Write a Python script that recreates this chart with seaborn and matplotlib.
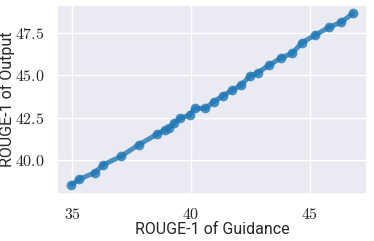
import numpy as np
import pandas as pd
import matplotlib
matplotlib.use('Agg')
import matplotlib.pyplot as plt
from matplotlib.ticker import FuncFormatter, MultipleLocator
import seaborn as sns

# values
guidance = [34.96, 35.27, 35.96, 36.30, 37.05, 37.81, 38.56, 38.90, 39.06, 39.30,
            39.53, 39.94, 40.17, 40.61, 40.96, 41.33, 41.73, 42.12, 42.47, 42.81,
            43.30, 43.80, 44.27, 44.68, 45.21, 45.81, 46.33, 46.82]
output = [38.55, 38.87, 39.28, 39.73, 40.23, 40.92, 41.52, 41.80, 41.88, 42.19,
          42.46, 42.66, 43.05, 43.05, 43.44, 43.77, 44.12, 44.41, 44.94, 45.14,
          45.59, 46.02, 46.29, 46.91, 47.34, 47.81, 48.11, 48.63]

df = pd.DataFrame({'guidance': guidance, 'output': output})

sns.set_theme(style='darkgrid')
plt.rcParams['font.family'] = ['Roboto', 'DejaVu Sans']
plt.rcParams['mathtext.fontset'] = 'cm'

fig, ax = plt.subplots(figsize=(3.74, 2.41), dpi=100)
sns.lineplot(data=df, x='guidance', y='output', ax=ax, marker='o',
             color='#1f77b4', alpha=0.8, linewidth=3.5, markersize=7,
             markeredgewidth=0)

ax.xaxis.set_major_locator(MultipleLocator(5))
ax.yaxis.set_major_locator(MultipleLocator(2.5))
ax.xaxis.set_major_formatter(FuncFormatter(lambda v, p: f'${v:.0f}$'))
ax.yaxis.set_major_formatter(FuncFormatter(lambda v, p: f'${v:.1f}$'))
ax.tick_params(labelsize=11.5, pad=3)
ax.tick_params(axis='x', pad=4)
ax.set_xlabel('ROUGE-1 of Guidance', fontsize=11.5, labelpad=0, color='#262626')
ax.set_ylabel('ROUGE-1 of Output', fontsize=11.5, labelpad=0, color='#262626')

fig.subplots_adjust(left=0.153, right=0.981, top=0.98, bottom=0.197)
fig.savefig('out.png', dpi=100)
